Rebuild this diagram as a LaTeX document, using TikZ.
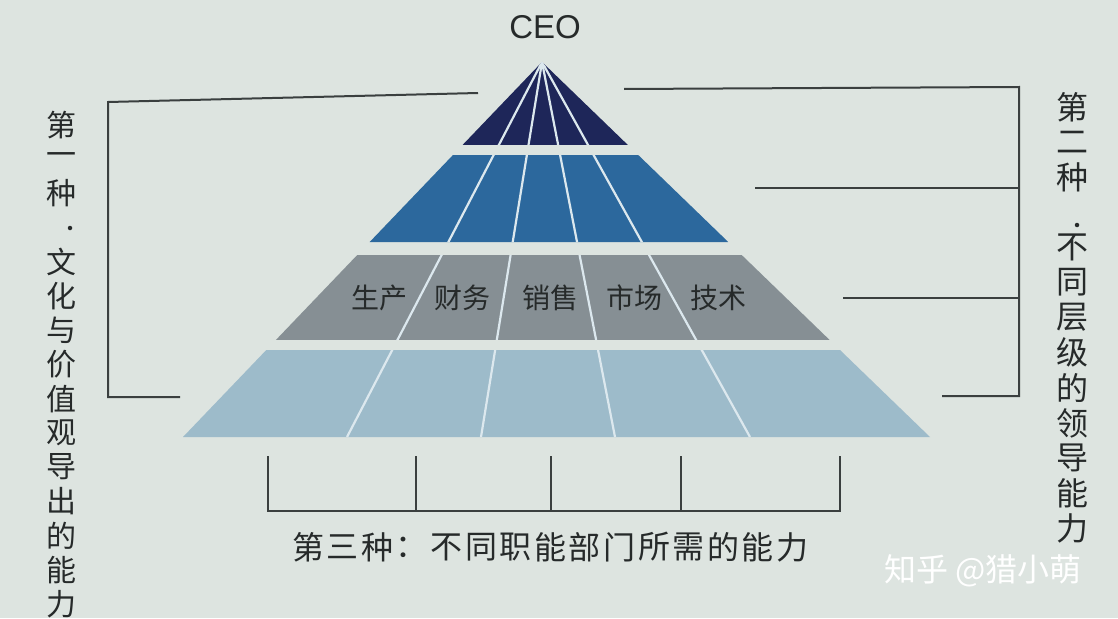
\documentclass[tikz,border=0pt]{standalone}
\usepackage{fontspec}
\setmainfont{Liberation Sans}
\newfontfamily\cjk{Noto Sans CJK SC}
\usetikzlibrary{calc}
\definecolor{bg}{HTML}{DDE4E0}
\definecolor{tierA}{HTML}{1E2659}
\definecolor{tierB}{HTML}{2C689D}
\definecolor{tierC}{HTML}{868F94}
\definecolor{tierD}{HTML}{9DBBCA}
\definecolor{sepc}{HTML}{DCE8EE}
\definecolor{linec}{HTML}{3A3F3F}
\definecolor{txt}{HTML}{262A2A}
\begin{document}
\begin{tikzpicture}[x=1pt,y=-1pt,
  bracket/.style={draw=linec, line width=2pt},
  sepline/.style={draw=sepc, line width=2.2pt},
  vtext/.style={font=\cjk\fontsize{30}{30}\selectfont, text=txt, inner sep=0pt},
  rtext/.style={font=\cjk\fontsize{32}{32}\selectfont, text=txt, inner sep=0pt},
  vdot/.style={circle, fill=txt, inner sep=0pt, minimum size=4.5pt},
  tierlab/.style={font=\cjk\fontsize{28}{28}\selectfont, text=txt, inner sep=0pt},
  bottomlab/.style={font=\cjk\fontsize{32}{32}\selectfont, text=txt, inner sep=0pt},
  wmark/.style={font=\cjk\fontsize{32}{32}\selectfont, text=white, inner sep=0pt}]
\fill[bg] (0,0) rectangle (1118,618);
\useasboundingbox (0,0) rectangle (1118,618);

% pyramid frame
\coordinate (A) at (542,62);
\coordinate (BL) at (183,437);
\coordinate (BR) at (930,437);
\coordinate (S1) at (347,437);
\coordinate (S2) at (481,437);
\coordinate (S3) at (615,437);
\coordinate (S4) at (750,437);

% tiers
\foreach \ta/\tb/\col in {0/0.2213/tierA, 0.248/0.48/tierB, 0.5147/0.7413/tierC, 0.768/1/tierD}{
  \begin{scope}
    \path[fill=\col] ($(A)!\ta!(BL)$) -- ($(A)!\tb!(BL)$) -- ($(A)!\tb!(BR)$) -- ($(A)!\ta!(BR)$) -- cycle;
    \clip ($(A)!\ta!(BL)$) -- ($(A)!\tb!(BL)$) -- ($(A)!\tb!(BR)$) -- ($(A)!\ta!(BR)$) -- cycle;
    \foreach \s in {S1,S2,S3,S4}{ \draw[sepline] (A) -- (\s); }
  \end{scope}
}

% CEO
\node[font=\fontsize{33}{33}\selectfont, text=txt, inner sep=0pt] (ceo) at (545,27) {CEO};

% tier 3 labels
\node[tierlab] (l1) at (379,298) {生产};
\node[tierlab] (l2) at (462,298) {财务};
\node[tierlab] (l3) at (550,298) {销售};
\node[tierlab] (l4) at (634,298) {市场};
\node[tierlab] (l5) at (718,298) {技术};

% left bracket
\draw[bracket] (478,93) -- (108,102) -- (108,397) -- (180,397);

% right bracket
\draw[bracket] (624,89) -- (1019,87) -- (1019,396) -- (942,396);
\draw[bracket] (755,188) -- (1019,188);
\draw[bracket] (843,298) -- (1019,298);

% bottom bracket
\draw[bracket] (268,456) -- (268,511) -- (840,511) -- (840,456);
\foreach \x in {416,551,681}{ \draw[bracket] (\x,456) -- (\x,511); }

% left vertical text (colon drawn as a dot)
\foreach \c [count=\i] in {第,一,种,,文,化,与,价,值,观,导,出,的,能,力}{
  \node[vtext] (L\i) at (61,{125+34.2*(\i-1)}) {\c};
}
\node[vdot] (Lc) at (70,228) {};
% right vertical text
\foreach \c [count=\i] in {第,二,种,,不,同,层,级,的,领,导,能,力}{
  \node[rtext] (R\i) at (1072,{107+35.1*(\i-1)}) {\c};
}
\node[vdot] (Rc) at (1077,225) {};

% bottom label
\foreach \c [count=\i] in {第,三,种,：,不,同,职,能,部,门,所,需,的,能,力}{
  \node[bottomlab] (B\i) at ({308+34.6*(\i-1)},547) {\c};
}

% watermark
\node[wmark] (wm) at (983,571) {知乎 @猎小萌};
\end{tikzpicture}
\end{document}
